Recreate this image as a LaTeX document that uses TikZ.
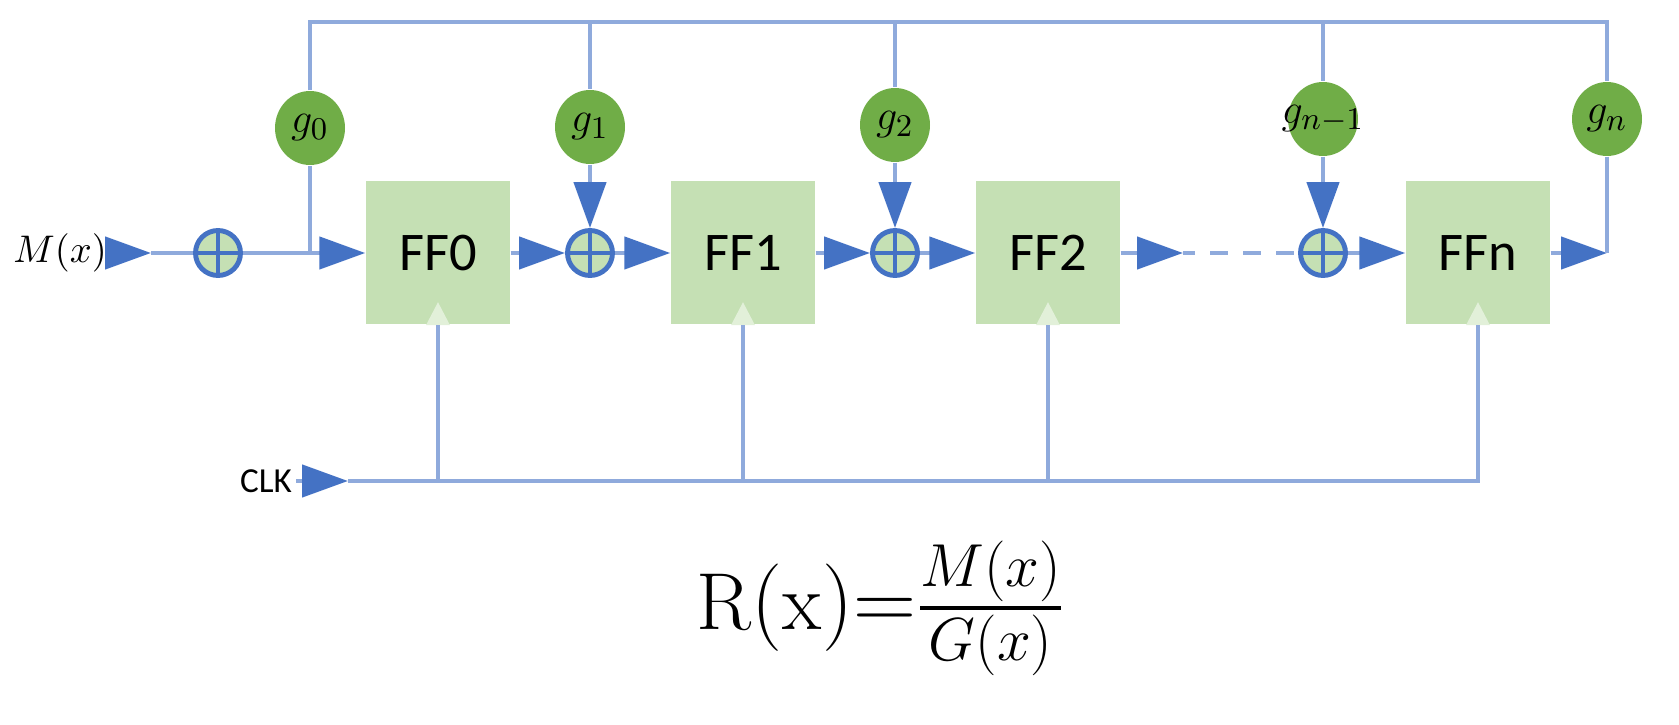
\documentclass[tikz,border=0pt]{standalone}
\usepackage{amsmath}
\usepackage{fontspec}
\newfontfamily\fffont{Carlito}
\usetikzlibrary{calc, arrows.meta, shapes.geometric}

\definecolor{wireblue}{HTML}{8FAADC}
\definecolor{tipblue}{HTML}{4472C4}
\definecolor{boxgreen}{HTML}{C5E0B4}
\definecolor{coefgreen}{HTML}{70AD47}
\definecolor{clkpale}{HTML}{E2F0D9}

\begin{document}
\begin{tikzpicture}[
		wire/.style={draw=wireblue, line width=1.3pt},
		feed/.style={wire, -{Triangle[length=4.6mm, width=3.2mm, color=tipblue]}},
		ffbox/.style={fill=boxgreen, minimum width=1.44cm, minimum height=1.43cm, inner sep=0pt, font=\fffont\fontsize{15.5}{18}\selectfont},
		coef/.style={ellipse, fill=coefgreen, minimum width=0.70cm, minimum height=0.74cm, inner sep=0pt, font=\fontsize{13}{15}\selectfont},
		xor/.style={circle, draw=tipblue, fill=boxgreen, line width=1.4pt, minimum size=0.45cm, inner sep=0pt,
			path picture={\draw[tipblue, line width=1.2pt] (path picture bounding box.north) -- (path picture bounding box.south)
				(path picture bounding box.west) -- (path picture bounding box.east);}}
	]

		\useasboundingbox (0,0) rectangle (16.79,7.24);

		\coordinate (top) at (0,7.02);
		\coordinate (in) at (1.51,4.71);
		\coordinate (dots) at (11.83,4.71);
		\coordinate (clkin) at (3.48,2.43);

		\node[ffbox] (ff0) at (4.38,4.71) {FF0};
		\node[ffbox] (ff1) at (7.43,4.71) {FF1};
		\node[ffbox] (ff2) at (10.48,4.71) {FF2};
		\node[ffbox] (ffn) at (14.78,4.71) {FFn};

		\fill[clkpale] ($(ff0.south)+(-0.12,0)$) -- ($(ff0.south)+(0.12,0)$) -- ($(ff0.south)+(0,0.23)$) -- cycle;
		\fill[clkpale] ($(ff1.south)+(-0.12,0)$) -- ($(ff1.south)+(0.12,0)$) -- ($(ff1.south)+(0,0.23)$) -- cycle;
		\fill[clkpale] ($(ff2.south)+(-0.12,0)$) -- ($(ff2.south)+(0.12,0)$) -- ($(ff2.south)+(0,0.23)$) -- cycle;
		\fill[clkpale] ($(ffn.south)+(-0.12,0)$) -- ($(ffn.south)+(0.12,0)$) -- ($(ffn.south)+(0,0.23)$) -- cycle;

		\node[coef] (g0) at (3.10,5.96) {$g_0$};
		\node[coef] (g1) at (5.90,5.97) {$g_1$};
		\node[coef] (g2) at (8.95,5.99) {$g_2$};
		\node[coef] (gm) at (13.23,6.05) {\makebox[0pt]{$g_{n-1}$}};
		\node[coef] (gn) at (16.07,6.05) {$g_n$};

		\coordinate (tap0) at (g0 |- ff0);
		\coordinate (out) at (gn |- ffn);

		\node[xor] (xor0) at (2.18,4.71) {};
		\node[xor] (xor1) at (5.90,4.71) {};
		\node[xor] (xor2) at (8.95,4.71) {};
		\node[xor] (xorn) at (13.23,4.71) {};

		\node[inner sep=1pt, font=\fontsize{10.5}{12}\selectfont] (mx) at (0.60,4.71) {$M(x)$};
		\node[inner sep=1pt, font=\fffont\fontsize{10}{12}\selectfont] (clk) at (2.66,2.43) {CLK};

		\draw[feed] (mx.east) -- (in);
		\draw[wire] (in) -- (xor0.west);
		\draw[wire] (xor0.east) -- (tap0);
		\draw[feed] (tap0) -- (ff0.west);
		\draw[feed] (ff0.east) -- (xor1.west);
		\draw[feed] (xor1.east) -- (ff1.west);
		\draw[feed] (ff1.east) -- (xor2.west);
		\draw[feed] (xor2.east) -- (ff2.west);
		\draw[feed] (ff2.east) -- (dots);
		\draw[wire, dash pattern=on 0.18cm off 0.15cm, dash phase=0.06cm] (dots) -- (xorn.west);
		\draw[feed] (xorn.east) -- (ffn.west);
		\draw[feed] (ffn.east) -- (out);

		\draw[wire] (tap0) -- (g0);
		\draw[wire] (g0) -- (g0 |- top) -- (gn |- top) -- (gn);
		\draw[wire] (gn) -- (out);
		\draw[wire] (g1 |- top) -- (g1);
		\draw[wire] (g2 |- top) -- (g2);
		\draw[wire] (gm |- top) -- (gm);

		\draw[feed] (g1) -- (xor1);
		\draw[feed] (g2) -- (xor2);
		\draw[feed] (gm) -- (xorn);

		\draw[feed] (clk.east) -- (clkin);
		\draw[wire] (clkin) -- (ffn.south |- clkin) -- (ffn.south);
		\draw[wire] (ff0.south |- clkin) -- (ff0.south);
		\draw[wire] (ff1.south |- clkin) -- (ff1.south);
		\draw[wire] (ff2.south |- clkin) -- (ff2.south);

		\node[font=\fontsize{23}{28}\selectfont] (rx) at (8.81,1.16) {$\mathrm{R(x)}{=}\genfrac{}{}{1.3pt}{1}{M(x)}{G(x)}$};

	\end{tikzpicture}
\end{document}
